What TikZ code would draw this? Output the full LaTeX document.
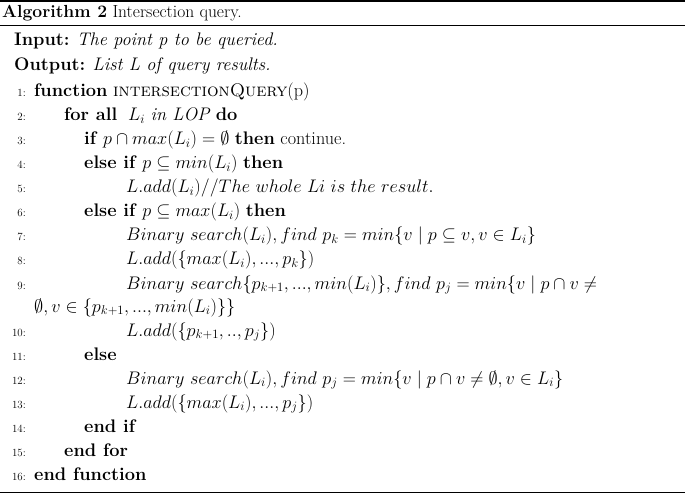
\RequirePackage{fix-cm}
\documentclass[tikz,border=0pt]{standalone}
\usepackage{amssymb}
\begin{document}
\begin{tikzpicture}[x=1pt,y=-1pt,
  tx/.style={anchor=base west,inner sep=0pt,font=\fontsize{18.2}{21}\selectfont},
  ln/.style={anchor=base east,inner sep=0pt,font=\fontsize{11}{13}\selectfont}]
\useasboundingbox (0,0) rectangle (685,494);
\draw[line width=1.2pt] (0,1) -- (685,1);
\draw[line width=0.6pt] (0,25) -- (685,25);
\draw[line width=0.8pt] (0,492) -- (685,492);
\node[tx,font=\fontsize{17.5}{20}\selectfont] (h) at (2,18) {\textbf{Algorithm 2} Intersection query.};
\node[tx] (in) at (14,46) {\textbf{Input:} \textit{The point p to be queried.}};
\node[tx] (out) at (14,71) {\textbf{Output:} \textit{List L of query results.}};
\foreach \n/\y in {1/97,2/121,3/145,4/169,5/193,6/217,7/241,8/265,9/289,10/336,11/360,12/384,13/408,14/432,15/456,16/480}
  \node[ln] (n\n) at (26,\y) {\n:};
\node[tx] (l1) at (34,97) {\textbf{function} \textsc{intersectionQuery}(p)};
\node[tx] (l2) at (64,121) {\textbf{for all} \ $L_i$ \textit{in LOP} \textbf{do}};
\node[tx] (l3) at (84,145) {\textbf{if} $p\cap max(L_i)=\emptyset$ \textbf{then} continue.};
\node[tx] (l4) at (84,169) {\textbf{else if} $p\subseteq min(L_i)$ \textbf{then}};
\node[tx] (l5) at (126,193) {$L.add(L_i)//The\ whole\ Li\ is\ the\ result.$};
\node[tx] (l6) at (84,217) {\textbf{else if} $p\subseteq max(L_i)$ \textbf{then}};
\node[tx] (l7) at (126,241) {$Binary\ search(L_i), find\ p_k=min\{v\mid p\subseteq v, v\in L_i\}$};
\node[tx] (l8) at (126,265) {$L.add(\{max(L_i),...,p_k\})$};
\node[tx] (l9) at (126,289) {$Binary\ search\{p_{k+1},...,min(L_i)\}, find\ p_j=min\{v\mid p\cap v\neq$};
\node[tx] (l9b) at (34,312) {$\emptyset, v\in\{p_{k+1},...,min(L_i)\}\}$};
\node[tx] (l10) at (126,336) {$L.add(\{p_{k+1},..,p_j\})$};
\node[tx] (l11) at (84,360) {\textbf{else}};
\node[tx] (l12) at (126,384) {$Binary\ search(L_i), find\ p_j=min\{v\mid p\cap v\neq\emptyset, v\in L_i\}$};
\node[tx] (l13) at (126,408) {$L.add(\{max(L_i),...,p_j\})$};
\node[tx] (l14) at (84,432) {\textbf{end if}};
\node[tx] (l15) at (64,456) {\textbf{end for}};
\node[tx] (l16) at (34,480) {\textbf{end function}};
\end{tikzpicture}
\end{document}
